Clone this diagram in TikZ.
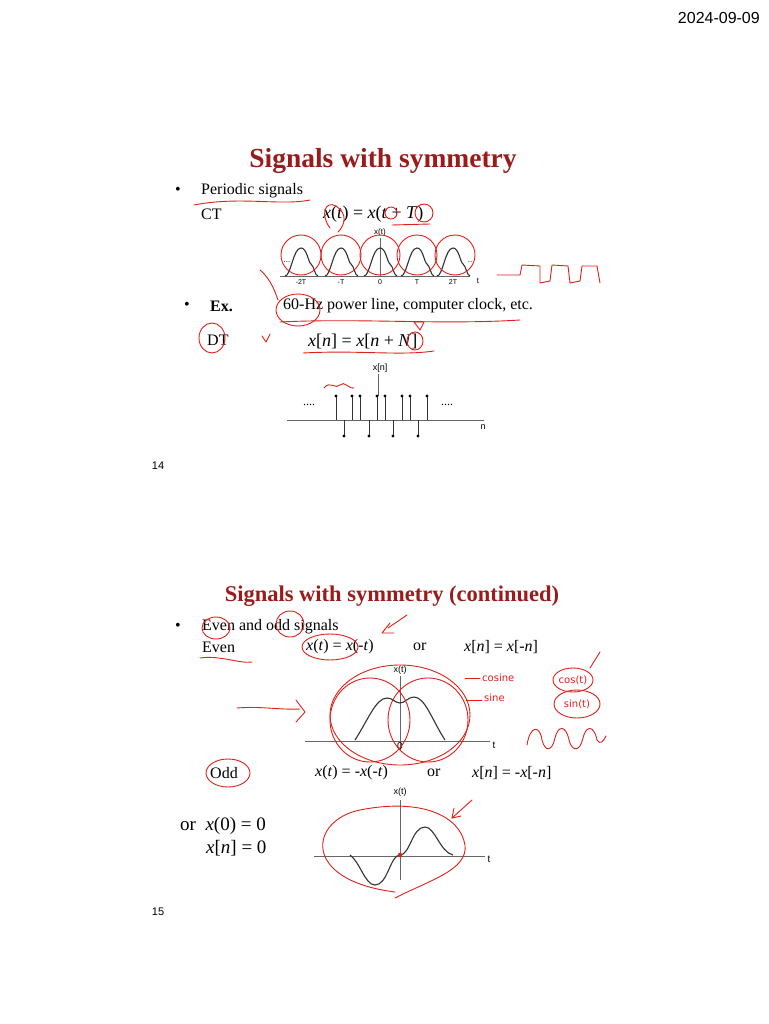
\documentclass[tikz,border=0pt]{standalone}
\usepackage{fontspec}
\setmainfont{Liberation Serif}
\newfontfamily\lsans{Liberation Sans}
\newfontfamily\hand{DejaVu Sans}
\definecolor{ttl}{HTML}{9B1B1B}
\definecolor{ink}{HTML}{E0201A}
\newcommand{\iv}[1]{\textit{#1}}
\begin{document}
\begin{tikzpicture}[x=1pt,y=-1pt,
  txt/.style={anchor=west,inner sep=0,font=\fontsize{16}{16}\selectfont},
  lbl/.style={inner sep=0,font=\lsans\fontsize{8}{8}\selectfont},
  title/.style={inner sep=0,text=ttl,font=\bfseries\fontsize{26}{26}\selectfont},
  sig/.style={line width=1.1pt,black!80},
  ax/.style={line width=0.5pt,black!60},
  red/.style={ink,line width=0.9pt,line cap=round,line join=round},
  hw/.style={inner sep=0,text=ink,font=\hand\fontsize{10}{10}\selectfont}]
\useasboundingbox[fill=white] (0,0) rectangle (768,1024);
\node[lbl,font=\lsans\fontsize{16}{16}\selectfont,anchor=east] (date) at (760,18) {2024-09-09};
% ---------------- slide 14
\node[title,font=\bfseries\fontsize{27.5}{27.5}\selectfont] (t1) at (383,161) {Signals with symmetry};
\node[txt] (b1) at (175,191) {\textbullet};
\node[txt] (p1) at (201,191) {Periodic signals};
\node[txt] (ct) at (201,214) {CT};
\node[txt,font=\fontsize{18}{18}\selectfont] (eq1) at (323,214) {\iv{x}(\iv{t}) = \iv{x}(\iv{t} + \iv{T})};
\node[lbl] (xt1) at (380,232) {x(t)};
\draw[ax] (280,276) -- (470,276);
\draw[ax] (380,238) -- (380,276);
\node[lbl] (tt1) at (478,281) {t};
\foreach \c/\l in {301/-2T,341/-T,380/0,417/T,453/2T}{
  \draw[sig] (\c-16,276) .. controls (\c-10,276) and (\c-8,248) .. (\c,248)
     .. controls (\c+6,248) and (\c+7,262) .. (\c+10,264) .. controls (\c+13,266) and (\c+14,276) .. (\c+17,276);
  \node[lbl,font=\lsans\fontsize{7}{7}\selectfont] at (\c,282) {\l};
}
\node[lbl] (d1) at (287,262) {...};
\node[lbl] (d2) at (470,262) {..};
\node[txt] (b2) at (184,306) {\textbullet};
\node[txt] (ex) at (210,306) {\textbf{Ex.}};
\node[txt] (exs) at (283,306) {60-Hz power line, computer clock, etc.};
\node[txt] (dt) at (207,340) {DT};
\node[txt,font=\fontsize{18}{18}\selectfont] (eq2) at (308,341) {\iv{x}[\iv{n}] = \iv{x}[\iv{n} + \iv{N}]};
\node[lbl,font=\lsans\fontsize{9}{9}\selectfont] (xn) at (380,368) {x[n]};
\draw[ax] (378,374) -- (378,396);
\draw[ax] (287,420) -- (484,420);
\node[lbl,font=\lsans\fontsize{9}{9}\selectfont] (nn) at (483,427) {n};
\foreach \x in {336,352,360,377,385,402,410,427}{
  \draw[sig,line width=0.9pt] (\x,420) -- (\x,396); \fill (\x,396) circle (1.6);}
\foreach \x in {344,369,393,418}{
  \draw[sig,line width=0.9pt] (\x,420) -- (\x,436); \fill (\x,436) circle (1.6);}
\node[lbl,font=\fontsize{12}{12}\selectfont] (d3) at (309,405) {....};
\node[lbl,font=\fontsize{12}{12}\selectfont] (d4) at (447,405) {....};
\node[lbl,font=\lsans\fontsize{11}{11}\selectfont] (s14) at (158,466) {14};
% red ink slide 14
\draw[red] (194,205) .. controls (240,196) and (280,206) .. (310,200);
\draw[red] (330,228) .. controls (320,215) and (325,200) .. (336,206) .. controls (348,214) and (345,225) .. (338,232);
\draw[red] (391,213) circle (6); \draw[red] (424,213) ellipse (9 and 9);
\draw[red] (392,225) -- (430,224);
\foreach \c in {301,341,380,417,455}{\draw[red] (\c,255) ellipse (20 and 20);}
\draw[red] (497,275) -- (520,275) -- (522,265) -- (540,266) -- (540,283) -- (550,281) -- (552,265) -- (568,266) -- (570,283) -- (580,281) -- (582,266) -- (597,266) -- (600,283);
\draw[red] (298,310) ellipse (22 and 16);
\draw[red] (260,270) .. controls (272,280) and (276,295) .. (278,300);
\draw[red] (280,322) .. controls (360,318) and (440,325) .. (520,320);
\draw[red] (212,338) ellipse (13 and 15);
\draw[red] (262,336) -- (266,342) -- (270,334);
\draw[red] (303,353) .. controls (360,350) and (400,356) .. (434,351);
\draw[red] (415,341) ellipse (8 and 9);
\draw[red] (420,330) -- (424,322) -- (414,322) -- cycle;
\draw[red] (324,388) .. controls (330,380) and (336,390) .. (340,385) .. controls (344,380) and (350,390) .. (354,388);
% ---------------- slide 15
\node[title,font=\bfseries\fontsize{22.5}{22.5}\selectfont] (t2) at (392,596) {Signals with symmetry (continued)};
\node[txt] (b3) at (175,627) {\textbullet};
\node[txt] (eo) at (202,627) {Even and odd signals};
\node[txt] (ev) at (202,647) {Even};
\node[txt] (eq3) at (306,647) {\iv{x}(\iv{t}) = \iv{x}(-\iv{t})};
\node[txt] (or1) at (413,647) {or};
\node[txt] (eq4) at (464,647) {\iv{x}[\iv{n}] = \iv{x}[-\iv{n}]};
\node[lbl,font=\lsans\fontsize{9}{9}\selectfont] (xt2) at (400,670) {x(t)};
\draw[ax] (305,741) -- (490,741);
\draw[ax] (400,676) -- (400,750);
\node[lbl,font=\lsans\fontsize{10}{10}\selectfont] (tt2) at (494,745) {t};
\node[lbl,font=\lsans\fontsize{10}{10}\selectfont] (z2) at (400,746) {0};
\draw[sig] (355,740) .. controls (368,720) and (376,698) .. (387,698) .. controls (393,698) and (395,703) .. (400,703)
   .. controls (405,703) and (408,697) .. (414,697) .. controls (425,697) and (432,720) .. (445,740);
\node[txt] (odd) at (210,773) {Odd};
\node[txt] (eq5) at (315,773) {\iv{x}(\iv{t}) = -\iv{x}(-\iv{t})};
\node[txt] (or2) at (427,773) {or};
\node[txt] (eq6) at (472,773) {\iv{x}[\iv{n}] = -\iv{x}[-\iv{n}]};
\node[lbl,font=\lsans\fontsize{9}{9}\selectfont] (xt3) at (400,792) {x(t)};
\draw[ax] (314,856) -- (485,856);
\draw[ax] (400,800) -- (400,880);
\node[lbl,font=\lsans\fontsize{10}{10}\selectfont] (tt3) at (489,859) {t};
\draw[sig] (350,855) .. controls (360,862) and (365,885) .. (375,885) .. controls (388,885) and (390,855) .. (400,855)
   .. controls (410,855) and (412,827) .. (425,827) .. controls (435,827) and (440,852) .. (453,855);
\node[txt,font=\fontsize{19}{19}\selectfont] (or3) at (180,826) {or~~\iv{x}(0) = 0};
\node[txt,font=\fontsize{19}{19}\selectfont] (xn0) at (206,848) {\iv{x}[\iv{n}] = 0};
\node[lbl,font=\lsans\fontsize{11}{11}\selectfont] (s15) at (158,912) {15};
% red ink slide 15
\draw[red] (216,628) ellipse (14 and 11); \draw[red] (290,624) ellipse (14 and 13);
\draw[red] (330,647) ellipse (28 and 13);
\draw[red] (388,628) -- (407,615); \draw[red] (382,633) -- (390,623) (382,633) -- (394,633);
\draw[red] (200,658) .. controls (220,655) and (240,664) .. (252,662);
\draw[red] (370,720) ellipse (40 and 42); \draw[red] (428,720) ellipse (40 and 42);
\draw[red] (400,715) ellipse (70 and 50);
\draw[red] (237,708) .. controls (260,706) and (280,710) .. (300,709);
\draw[red] (296,700) -- (305,712) -- (296,722);
\draw[red] (465,678) -- (480,678); \draw[red] (466,700) -- (482,700);
\node[hw,anchor=west] (cos) at (482,678) {cosine};
\node[hw,anchor=west] (sin) at (484,698) {sine};
\node[hw] (cost) at (573,680) {cos(t)};
\node[hw] (sint) at (577,704) {sin(t)};
\draw[red] (cost) ellipse (20 and 12); \draw[red] (sint) ellipse (23 and 14);
\draw[red] (590,668) -- (600,652);
\draw[red] (527,745) .. controls (530,725) and (540,725) .. (542,740) .. controls (545,752) and (552,752) .. (555,738)
  .. controls (558,725) and (566,725) .. (569,740) .. controls (572,752) and (580,752) .. (583,738)
  .. controls (586,725) and (594,725) .. (597,740) .. controls (600,745) and (603,742) .. (606,736);
\draw[red] (228,773) ellipse (22 and 14);
\draw[red] (395,892) .. controls (300,880) and (310,820) .. (360,810) .. controls (420,798) and (460,815) .. (465,845)
  .. controls (468,870) and (430,880) .. (395,898);
\draw[red] (472,800) -- (452,818); \draw[red] (452,818) -- (454,808) (452,818) -- (461,816);
\fill[ink] (400,855) circle (2.2);
\end{tikzpicture}
\end{document}
